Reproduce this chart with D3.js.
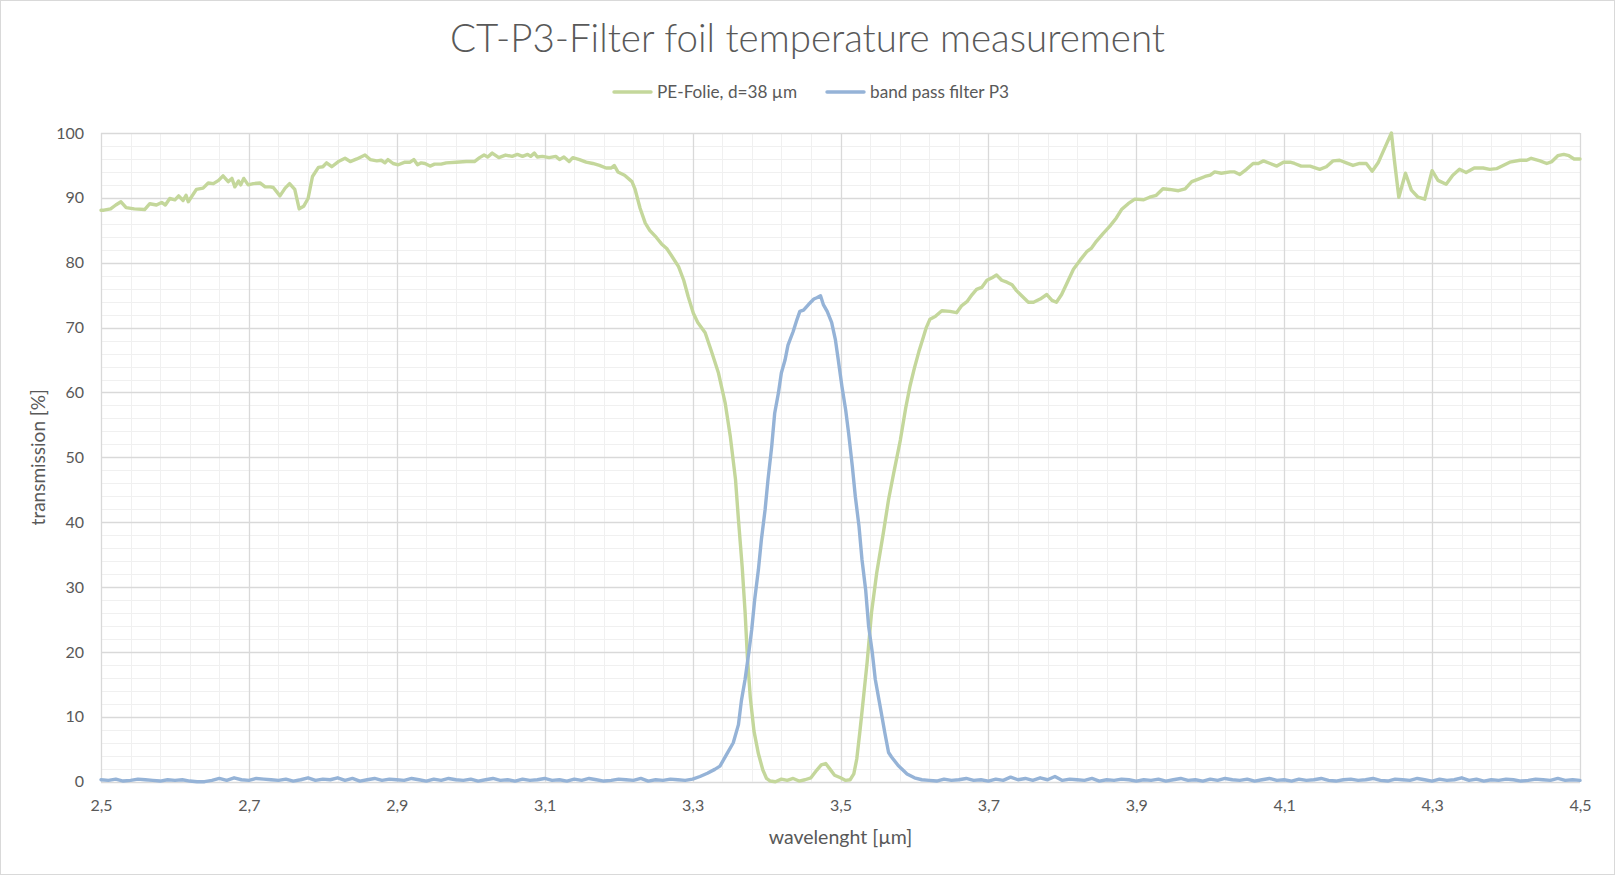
<!DOCTYPE html>
<html><head><meta charset="utf-8">
<script src="https://cdn.jsdelivr.net/npm/d3@7"></script>
<style>html,body{margin:0;padding:0;background:#fff;}svg{display:block;font-family:Lato,"Open Sans",sans-serif;}</style>
</head><body>
<svg id="chart" width="1615" height="875"></svg>
<script>
const title = "CT-P3-Filter foil temperature measurement";
const seriesNames = ["PE-Folie, d=38 µm", "band pass filter P3"];
const seriesColors = ["#c4d79b", "#95b3d7"];
const xTickValues = [2.5, 2.7, 2.9, 3.1, 3.3, 3.5, 3.7, 3.9, 4.1, 4.3, 4.5];
const yTickValues = [0, 10, 20, 30, 40, 50, 60, 70, 80, 90, 100];
const xLabel = "wavelenght [µm]";
const yLabel = "transmission [%]";

// PE-Folie (green)
const greenWl = [2.500,2.504,2.513,2.520,2.527,2.534,2.545,2.559,2.566,2.575,2.582,2.587,2.593,2.600,2.605,2.611,2.615,2.618,2.629,2.638,2.645,2.652,2.659,2.665,2.672,2.677,2.681,2.686,2.689,2.693,2.699,2.706,2.715,2.722,2.729,2.733,2.742,2.749,2.755,2.762,2.768,2.774,2.780,2.786,2.794,2.800,2.805,2.812,2.821,2.830,2.837,2.846,2.857,2.864,2.873,2.879,2.884,2.888,2.895,2.902,2.911,2.918,2.923,2.928,2.933,2.938,2.945,2.951,2.960,2.967,2.980,2.994,3.005,3.012,3.018,3.023,3.029,3.038,3.047,3.056,3.063,3.070,3.077,3.081,3.086,3.090,3.097,3.106,3.115,3.120,3.126,3.133,3.138,3.147,3.156,3.165,3.174,3.183,3.190,3.194,3.199,3.208,3.218,3.222,3.229,3.236,3.242,3.251,3.258,3.265,3.272,3.281,3.288,3.294,3.301,3.307,3.317,3.325,3.335,3.344,3.351,3.358,3.362,3.367,3.371,3.374,3.378,3.383,3.389,3.395,3.400,3.405,3.412,3.420,3.428,3.436,3.444,3.452,3.460,3.468,3.474,3.480,3.486,3.492,3.500,3.507,3.513,3.518,3.522,3.526,3.529,3.532,3.536,3.542,3.549,3.558,3.565,3.572,3.581,3.588,3.594,3.600,3.606,3.612,3.616,3.621,3.628,3.637,3.648,3.657,3.664,3.671,3.678,3.684,3.691,3.698,3.705,3.711,3.718,3.725,3.732,3.738,3.745,3.754,3.761,3.770,3.779,3.786,3.792,3.799,3.806,3.815,3.824,3.833,3.839,3.846,3.855,3.864,3.873,3.880,3.889,3.898,3.910,3.918,3.927,3.936,3.945,3.957,3.966,3.975,3.984,3.993,4.000,4.006,4.015,4.027,4.033,4.040,4.049,4.058,4.065,4.072,4.081,4.090,4.099,4.108,4.114,4.123,4.135,4.148,4.157,4.166,4.175,4.184,4.193,4.202,4.211,4.219,4.227,4.236,4.245,4.249,4.255,4.264,4.272,4.281,4.290,4.300,4.308,4.319,4.328,4.337,4.346,4.357,4.369,4.378,4.387,4.396,4.405,4.419,4.428,4.434,4.446,4.455,4.462,4.470,4.478,4.485,4.492,4.500];
const greenT = [88.1,88.1,88.3,88.9,89.4,88.5,88.3,88.2,89.1,88.9,89.3,88.9,89.9,89.7,90.3,89.6,90.4,89.4,91.3,91.5,92.3,92.2,92.7,93.4,92.5,93.0,91.7,92.6,92.0,93.0,92.0,92.2,92.3,91.7,91.7,91.6,90.3,91.5,92.2,91.3,88.3,88.7,89.9,93.3,94.7,94.8,95.4,94.8,95.6,96.1,95.6,96.0,96.6,95.9,95.7,95.8,95.4,95.9,95.3,95.1,95.5,95.5,95.9,95.1,95.4,95.3,94.9,95.2,95.2,95.4,95.5,95.6,95.6,96.2,96.6,96.3,96.9,96.2,96.6,96.4,96.7,96.4,96.7,96.4,96.9,96.3,96.4,96.2,96.4,95.9,96.3,95.6,96.2,95.9,95.5,95.3,95.0,94.6,94.6,95.0,94.0,93.5,92.5,91.4,88.4,86.1,85.0,83.9,82.9,82.2,81.0,79.4,77.3,74.8,72.2,70.8,69.2,66.5,63.0,58.4,53.2,46.6,40.4,33.2,26.1,19.4,13.0,7.8,4.3,1.8,0.5,0.1,0.0,0.4,0.2,0.5,0.1,0.3,0.6,1.8,2.6,2.8,1.9,1.0,0.6,0.2,0.3,1.2,3.5,7.5,10.7,14.0,18.4,26.1,32.2,38.4,43.5,47.6,52.7,57.5,61.0,63.8,66.3,68.5,70.0,71.3,71.7,72.6,72.5,72.3,73.4,74.0,75.1,75.9,76.2,77.3,77.7,78.1,77.3,77.0,76.6,75.7,74.9,73.9,73.9,74.4,75.1,74.2,73.9,75.1,76.8,79.0,80.4,81.7,82.2,83.3,84.5,85.6,86.9,88.2,89.1,89.8,89.7,90.1,90.4,91.4,91.3,91.1,91.4,92.5,92.9,93.3,93.5,94.0,93.8,94.0,94.0,93.6,94.4,95.3,95.3,95.7,95.3,94.9,95.5,95.5,95.3,94.9,94.9,94.4,94.8,95.7,95.8,95.4,95.0,95.3,95.3,94.1,95.4,97.7,100.0,95.8,90.1,93.8,91.2,90.1,89.8,94.2,92.7,92.1,93.5,94.4,93.9,94.6,94.6,94.4,94.5,95.0,95.5,95.8,95.8,96.1,95.7,95.3,95.6,96.5,96.7,96.5,96.0,96.0];

// band pass filter P3 (blue): baseline left (2.50..3.29, step 0.01), band, baseline right (3.61..4.50, step 0.01)
const blueBaseLeftT = [0.3,0.2,0.4,0.1,0.2,0.4,0.3,0.2,0.1,0.3,0.2,0.3,0.1,0.0,0.0,0.2,0.5,0.2,0.6,0.3,0.2,0.5,0.4,0.3,0.2,0.4,0.1,0.3,0.6,0.2,0.4,0.3,0.6,0.2,0.5,0.1,0.3,0.5,0.2,0.4,0.3,0.2,0.5,0.3,0.1,0.4,0.2,0.5,0.3,0.2,0.4,0.1,0.3,0.5,0.2,0.3,0.1,0.4,0.2,0.3,0.5,0.2,0.3,0.1,0.4,0.2,0.5,0.3,0.1,0.2,0.4,0.3,0.2,0.5,0.1,0.3,0.2,0.4,0.3,0.2];
const blueBandWl = [3.300,3.310,3.320,3.330,3.337,3.346,3.355,3.362,3.366,3.371,3.376,3.380,3.384,3.389,3.393,3.398,3.402,3.407,3.411,3.416,3.420,3.425,3.429,3.436,3.441,3.445,3.450,3.457,3.464,3.468,3.473,3.477,3.482,3.488,3.493,3.497,3.502,3.507,3.511,3.516,3.520,3.525,3.529,3.534,3.538,3.543,3.547,3.553,3.560,3.565,3.569,3.578,3.590,3.600];
const blueBandT = [0.4,0.8,1.3,1.9,2.4,4.2,6.0,8.8,12.5,15.8,19.9,23.5,28.1,32.7,37.3,41.9,46.6,51.7,56.8,59.9,63.0,65.0,67.3,69.4,71.2,72.5,72.7,73.6,74.4,74.6,74.9,73.5,72.5,70.8,68.2,65.0,60.9,57.3,53.7,48.6,44.0,39.4,34.3,29.6,24.0,19.9,15.8,12.0,7.5,4.5,3.8,2.5,1.2,0.6];
const blueBaseRightT = [0.3,0.2,0.1,0.4,0.2,0.3,0.5,0.2,0.3,0.1,0.4,0.2,0.7,0.3,0.5,0.2,0.6,0.3,0.8,0.2,0.4,0.3,0.2,0.5,0.1,0.3,0.2,0.4,0.3,0.1,0.3,0.2,0.4,0.1,0.3,0.5,0.2,0.3,0.1,0.4,0.2,0.5,0.3,0.2,0.4,0.1,0.3,0.5,0.2,0.3,0.1,0.4,0.2,0.3,0.5,0.2,0.1,0.3,0.4,0.2,0.3,0.5,0.2,0.1,0.4,0.3,0.2,0.5,0.3,0.1,0.4,0.2,0.3,0.6,0.2,0.4,0.1,0.3,0.2,0.4,0.3,0.1,0.2,0.4,0.3,0.2,0.5,0.2,0.3,0.2];

const greenData = greenWl.map((w, i) => [w, greenT[i]]);
const blueData = []
  .concat(blueBaseLeftT.map((t, i) => [+(2.50 + i * 0.01).toFixed(2), t]))
  .concat(blueBandWl.map((w, i) => [w, blueBandT[i]]))
  .concat(blueBaseRightT.map((t, i) => [+(3.61 + i * 0.01).toFixed(2), t]));

const svg = d3.select("#chart");
const W = 1615, H = 875;
const m = {left: 101, top: 133, right: 1580, bottom: 781.7};

svg.append("rect").attr("x", 0.5).attr("y", 0.5).attr("width", W - 1).attr("height", H - 1)
  .attr("fill", "#fff").attr("stroke", "#d9d9d9").attr("stroke-width", 1);

const x = d3.scaleLinear().domain([2.5, 4.5]).range([m.left, m.right]);
const y = d3.scaleLinear().domain([0, 100]).range([m.bottom, m.top]);

const grid = svg.append("g");
// minor grid
const xMinor = d3.range(0, 51).map(i => 2.5 + i * 0.04).filter((v, i) => i % 5 !== 0);
const yMinor = d3.range(0, 51).map(i => i * 2).filter((v, i) => i % 5 !== 0);
grid.selectAll(".xm").data(xMinor).join("line")
  .attr("x1", d => Math.round(x(d)) + 0.5).attr("x2", d => Math.round(x(d)) + 0.5)
  .attr("y1", m.top).attr("y2", m.bottom).attr("stroke", "#f0f0f0").attr("stroke-width", 1);
grid.selectAll(".ym").data(yMinor).join("line")
  .attr("y1", d => Math.round(y(d)) + 0.5).attr("y2", d => Math.round(y(d)) + 0.5)
  .attr("x1", m.left).attr("x2", m.right).attr("stroke", "#f0f0f0").attr("stroke-width", 1);
// major grid
const xMajor = d3.range(0, 11).map(i => 2.5 + i * 0.2);
grid.selectAll(".xM").data(xMajor).join("line")
  .attr("x1", d => Math.round(x(d)) + 0.5).attr("x2", d => Math.round(x(d)) + 0.5)
  .attr("y1", m.top).attr("y2", m.bottom).attr("stroke", "#d9d9d9").attr("stroke-width", 1.3);
grid.selectAll(".yM").data(yTickValues).join("line")
  .attr("y1", d => Math.round(y(d)) + 0.5).attr("y2", d => Math.round(y(d)) + 0.5)
  .attr("x1", m.left).attr("x2", m.right).attr("stroke", "#d9d9d9").attr("stroke-width", 1.3);

// axes labels via d3 axes (no tick lines)
const fmt = d => d3.format(".1f")(d).replace(".", ",");
const xAxis = svg.append("g").attr("transform", `translate(0,${m.bottom})`)
  .call(d3.axisBottom(x).tickValues(xTickValues).tickFormat(fmt).tickSize(0).tickPadding(18));
const yAxis = svg.append("g").attr("transform", `translate(${m.left},0)`)
  .call(d3.axisLeft(y).tickValues(yTickValues).tickFormat(d3.format("d")).tickSize(0).tickPadding(17));
[xAxis, yAxis].forEach(a => {
  a.select(".domain").remove();
  a.selectAll("text").attr("fill", "#595959").style("font-size", "16px").style("font-family", "Lato, sans-serif");
});

// lines
const line = d3.line().x(d => x(d[0])).y(d => y(d[1]));
const plot = svg.append("g");
plot.append("path").datum(greenData).attr("d", line).attr("fill", "none")
  .attr("stroke", seriesColors[0]).attr("stroke-width", 3.4).attr("stroke-linejoin", "round").attr("stroke-linecap", "round");
plot.append("path").datum(blueData).attr("d", line).attr("fill", "none")
  .attr("stroke", seriesColors[1]).attr("stroke-width", 3.4).attr("stroke-linejoin", "round").attr("stroke-linecap", "round");

// title
svg.append("text").attr("x", W / 2).attr("y", 52).attr("text-anchor", "middle")
  .attr("fill", "#595959").style("font-size", "38.5px").style("font-family", "Lato, sans-serif").style("font-weight", 300)
  .text(title);

// axis titles
svg.append("text").attr("x", (m.left + m.right) / 2).attr("y", 844).attr("text-anchor", "middle")
  .attr("fill", "#595959").style("font-size", "19.5px").text(xLabel);
svg.append("text").attr("transform", `translate(45,${(m.top + m.bottom) / 2}) rotate(-90)`).attr("text-anchor", "middle")
  .attr("fill", "#595959").style("font-size", "19px").text(yLabel);

// legend
const legendItems = [{x: 614, name: seriesNames[0], color: seriesColors[0]}, {x: 827, name: seriesNames[1], color: seriesColors[1]}];
const lg = svg.append("g");
legendItems.forEach(it => {
  lg.append("line").attr("x1", it.x).attr("x2", it.x + 37).attr("y1", 92).attr("y2", 92)
    .attr("stroke", it.color).attr("stroke-width", 3.4).attr("stroke-linecap", "round");
  lg.append("text").attr("x", it.x + 43).attr("y", 98).attr("fill", "#595959")
    .style("font-size", "17.2px").text(it.name);
});
</script>
</body></html>
